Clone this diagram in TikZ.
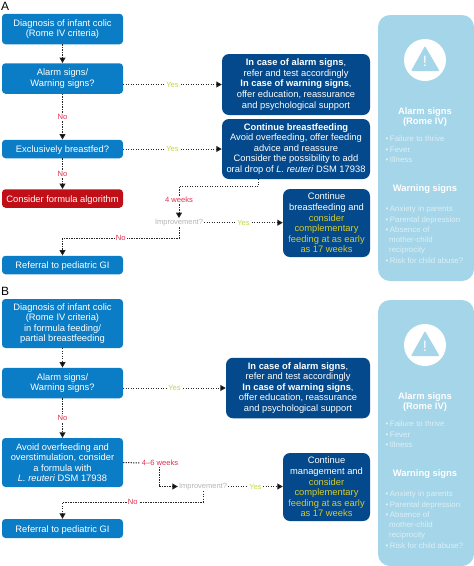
\documentclass[tikz,border=0pt]{standalone}
\usepackage{fontspec}
\setmainfont{Liberation Sans}
\usetikzlibrary{arrows.meta,calc}
\definecolor{lblue}{HTML}{0B7DC6}
\definecolor{dblue}{HTML}{03498B}
\definecolor{cred}{HTML}{C10F17}
\definecolor{pnl}{HTML}{A4D5E8}
\definecolor{pnltxt}{HTML}{DDF0F7}
\definecolor{yesc}{HTML}{C9D548}
\definecolor{noc}{HTML}{E2304F}
\definecolor{impc}{HTML}{B4B4B4}
\definecolor{hl}{HTML}{D8CB2A}
\tikzset{
  base/.style={align=center,text=white,inner sep=0pt,font=\fontsize{9.35}{10.55}\selectfont,execute at begin node={\rule{0pt}{9pt}}},
  lbox/.style={base,fill=lblue,rounded corners=3.5pt,minimum width=121pt},
  rbox/.style={lbox,fill=cred},
  dbox/.style={base,fill=dblue,rounded corners=7pt},
  flow/.style={draw=black!85,line width=1pt,dash pattern=on 1.2pt off 1.3pt,-{Triangle[length=5.5pt,width=6pt,fill=black]}},
  flowline/.style={draw=black!85,line width=1pt,dash pattern=on 1.2pt off 1.3pt},
  yes/.style={fill=white,text=yesc,inner sep=1pt,font=\fontsize{7.6}{8}\selectfont},
  no/.style={fill=white,text=noc,inner sep=1pt,font=\fontsize{7.6}{8}\selectfont},
  wk/.style={fill=white,text=noc,inner sep=1pt,font=\fontsize{7.6}{8}\selectfont},
  imp/.style={text=impc,inner sep=1pt,font=\fontsize{7.5}{8}\selectfont},
  hd/.style={align=center,text=white,inner sep=0pt,font=\fontsize{9.4}{10.5}\selectfont\bfseries},
  lst/.style={anchor=north west,align=left,text=pnltxt,inner sep=0pt,font=\fontsize{7.9}{10.25}\selectfont},
}
\newcommand{\hlt}[1]{\textcolor{hl}{#1}}
\newcommand{\signpanel}[1]{%
  \begin{scope}[yshift=#1]
    \fill[pnl,rounded corners=12pt] (378,15) rectangle (474,281);
    \fill[white] (425,60) circle (21);
    \fill[pnl,rounded corners=1pt] (425,46) -- (439.5,71) -- (411,71) -- cycle;
    \node[text=white,inner sep=0pt,font=\fontsize{15}{15}\selectfont] at (425,61) {!};
    \node[hd] at (425,117) {Alarm signs\\(Rome IV)};
    \node[lst] at (385.5,136) {•\hspace{1.5pt}Failure to thrive\\•\hspace{1.5pt}Fever\\•\hspace{1.5pt}Illness};
    \node[hd] at (425,189.5) {Warning signs};
    \node[lst] at (385.5,206) {•\hspace{1.5pt}Anxiety in parents\\•\hspace{1.5pt}Parental depression\\•\hspace{1.5pt}Absence of\\\hspace{3.5pt}mother-child\\\hspace{3.5pt}reciprocity\\•\hspace{1.5pt}Risk for child abuse?};
  \end{scope}}
\begin{document}
\begin{tikzpicture}[x=1pt,y=-1pt]
\useasboundingbox (0,0) rectangle (474,566);
% Panel A
\node[anchor=west,inner sep=0pt,font=\fontsize{12}{12}\selectfont] (lA) at (1,6) {A};
\node[lbox,minimum height=30.5pt] (a1) at (62.5,29) {Diagnosis of infant colic\\(Rome IV criteria)};
\node[lbox,minimum height=30.5pt] (a2) at (62.5,78.5) {Alarm signs/\\Warning signs?};
\node[lbox,minimum height=18.5pt] (a3) at (62.5,149) {Exclusively breastfed?};
\node[rbox,minimum height=18.5pt] (a4) at (62.5,198.5) {Consider formula algorithm};
\node[lbox,minimum height=18.5pt] (a5) at (62.5,265) {Referral to pediatric GI};
\node[dbox,minimum width=148pt,minimum height=61pt] (d1) at (296,84.5) {\textbf{In case of alarm signs},\\refer and test accordingly\\\textbf{In case of warning signs},\\offer education, reassurance\\and psychological support};
\node[dbox,minimum width=148pt,minimum height=60pt] (d2) at (296,149) {\textbf{Continue breastfeeding}\\Avoid overfeeding, offer feeding\\advice and reassure\\Consider the possibility to add\\oral drop of \textit{L. reuteri} DSM 17938};
\node[dbox,minimum width=87pt,minimum height=68pt] (d3) at (326.5,223) {Continue\\breastfeeding and\\\hlt{consider}\\\hlt{complementary}\\\hlt{feeding at as early}\\\hlt{as 17 weeks}};
\node[imp] (i1) at (179,222.7) {Improvement?};
\coordinate (c1) at ($(d2.south west)!0.25!(d2.south east)$);
\draw[flow] (a1.south) -- (a2.north);
\draw[flow] (a2.south) -- node[no] (n1) {No} (a3.north);
\draw[flow] (a3.south) -- node[no] (n2) {No} (a4.north);
\draw[flow] (a2.east |- d1.west) -- node[yes] (y1) {Yes} (d1.west);
\draw[flow] (a3.east) -- node[yes] (y2) {Yes} (d2.west);
\draw[flow] (c1) -- ++(0,7) -| node[wk,pos=0.71] (w1) {4 weeks} (i1.north);
\draw[flow] (i1.east) -- node[yes] (y3) {Yes} (i1.east -| d3.west);
\draw[flow] (i1.south) -- ++(0,11) -| (a5.north) node[no,pos=0.25] (n3) {No};
% Panel B
\node[anchor=west,inner sep=0pt,font=\fontsize{12}{12}\selectfont] (lB) at (1,291) {B};
\node[lbox,minimum height=49pt] (b1) at (62.5,323.5) {Diagnosis of infant colic\\(Rome IV criteria)\\in formula feeding/\\partial breastfeeding};
\node[lbox,minimum height=30.5pt] (b2) at (62.5,383) {Alarm signs/\\Warning signs?};
\node[lbox,minimum height=49pt] (b3) at (62.5,462.5) {Avoid overfeeding and\\overstimulation, consider\\a formula with\\\textit{L. reuteri} DSM 17938};
\node[lbox,minimum height=19pt] (b4) at (62.5,528.5) {Referral to pediatric GI};
\node[dbox,minimum width=144pt,minimum height=60.5pt] (e1) at (298,388) {\textbf{In case of alarm signs},\\refer and test accordingly\\\textbf{In case of warning signs},\\offer education, reassurance\\and psychological support};
\node[dbox,minimum width=87pt,minimum height=68pt] (e3) at (326.5,487) {Continue\\management and\\\hlt{consider}\\\hlt{complementary}\\\hlt{feeding at as early}\\\hlt{as 17 weeks}};
\node[imp] (i2) at (203,486.5) {Improvement?};
\node[wk] (w2) at (160,463) {4–6 weeks};
\draw[flow] (b1.south) -- (b2.north);
\draw[flow] (b2.south) -- node[no] (n4) {No} (b3.north);
\draw[flow] (b2.east |- e1.west) -- node[yes] (y4) {Yes} (e1.west);
\draw[flowline] (b3.east) -- (w2.west);
\draw[flow] (w2.south -| 159,0) -- (159,486.5) -- (i2.west);
\draw[flow] (i2.east) -- node[yes,pos=0.5] (y5) {Yes} (i2.east -| e3.west);
\draw[flow] (i2.south) -- ++(0,11) -| (b4.north) node[no,pos=0.25] (n5) {No};
\signpanel{0pt}
\signpanel{-285pt}
\end{tikzpicture}
\end{document}
